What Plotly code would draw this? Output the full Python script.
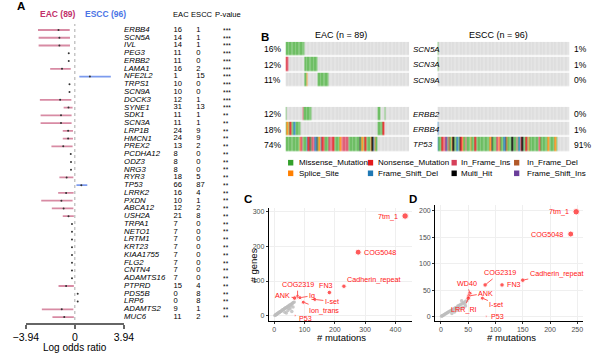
import plotly.graph_objects as go

W, H = 600, 355
FONT = "Liberation Sans, Arial, Helvetica, sans-serif"

# ---------------- Panel A data ----------------
genes = ["ERBB4", "SCN5A", "IVL", "PEG3", "ERBB2", "LAMA1", "NFE2L2", "TRPS1", "SCN9A", "DOCK3",
         "SYNE1", "SDK1", "SCN3A", "LRP1B", "HMCN1", "PREX2", "PCDHA12", "ODZ3", "NRG3", "RYR3",
         "TP53", "LRRK2", "PXDN", "ABCA12", "USH2A", "TRPA1", "NETO1", "LRTM1", "KRT23", "KIAA1755",
         "FLG2", "CNTN4", "ADAMTS16", "PTPRD", "PDS5B", "LRP6", "ADAMTS2", "MUC6"]
eac_counts = [16, 14, 14, 11, 11, 16, 1, 10, 10, 12, 31, 11, 11, 24, 24, 13, 8, 8, 8, 18,
              66, 16, 10, 12, 21, 7, 7, 7, 7, 7, 7, 7, 7, 15, 0, 0, 9, 11]
escc_counts = [1, 1, 1, 0, 0, 2, 15, 0, 0, 1, 13, 1, 1, 9, 9, 2, 0, 0, 0, 5,
               87, 4, 1, 2, 8, 0, 0, 0, 0, 0, 0, 0, 0, 4, 8, 8, 1, 2]
pvals = ["***"] * 11 + ["**"] * 27
log_or = [-1.31, -1.24, -1.24, -0.49, -0.49, -1.03, 1.21, -0.43, -0.43, -1.18,
          -0.51, -1.11, -1.11, -0.54, -0.54, -0.93, -0.33, -0.31, -0.31, -0.66,
          0.52, -0.70, -1.08, -0.90, -0.51, -0.23, -0.23, -0.23, -0.23, -0.23,
          -0.23, -0.23, -0.23, -0.70, 0.23, 0.23, -1.05, -0.85]
ci_lo = [-2.96, -2.91, -2.91, None, None, -1.98, 0.36, None, None, -2.81,
         -0.90, -2.75, -2.75, -0.97, -0.97, -1.88, None, None, None, -1.24,
         0.13, -1.34, -2.70, -1.85, -0.97, None, None, None, None, None,
         None, None, None, -1.31, None, None, -2.65, -1.80]
ci_hi = [-0.41, -0.39, -0.39, None, None, -0.33, 2.89, None, None, -0.28,
         -0.18, -0.26, -0.26, -0.15, -0.15, -0.18, None, None, None, -0.12,
         1.00, -0.10, -0.18, -0.12, -0.08, None, None, None, None, None,
         None, None, None, -0.08, None, None, -0.12, -0.08]
axis_ticks_A = [-3.94, 0, 3.94]
axis_ticktext_A = ["\u22123.94", "0", "3.94"]

# ---------------- Panel B data ----------------
n_eac, n_escc = 89, 96
onco_top = ["SCN5A", "SCN3A", "SCN9A"]
onco_bottom = ["ERBB2", "ERBB4", "TP53"]
# M Missense, N Nonsense, I In_Frame_Ins, D In_Frame_Del, S Splice_Site,
# F Frame_Shift_Del, H Multi_Hit, P Frame_Shift_Ins, . none
eac_top = [
    "M" * 14 + "." * 75,
    "NI" + "." * 12 + "M" * 9 + "." * 66,
    "." * 14 + "MS" + "." * 7 + "M" * 8 + "." * 58,
]
eac_bottom = [
    "M" + "." * 11 + "I" + "M" * 6 + "." * 47 + "MM" + "." * 3 + "M" + "." * 17,
    "MSMNMMFMMMM" + "." * 55 + "MMMMN" + "." * 18,
    "MMMMMMMMMM" + "SI" + "MMM" + "FNHM" + "IIFHM" + "SFNN" + "MMM" + "IIIN" + "MMMMS"
    + "IIIII" + "MMMMMMMM" + "HMSMN" + "MMMSHFSM" + "." * 23,
]
escc_top = [
    "M" + "." * 95,
    "M" + "." * 95,
    "." * 96,
]
escc_bottom = [
    "." * 96,
    "F" + "." * 95,
    "FMMNIIPMNM" + "SHMMFMHNSM" + "IMMMSMMNMM" + "MMMMMMMMSH" + "MMMISNMMFH"
    + "SMMMHMMIMF" + "NHMMNMSMMM" + "MMMINMMMMM" + "SMMMMSM" + "." * 9,
]
mut_codes = [".", "M", "N", "I", "D", "S", "F", "H", "P"]
mut_names = ["", "Missense_Mutation", "Nonsense_Mutation", "In_Frame_Ins", "In_Frame_Del",
             "Splice_Site", "Frame_Shift_Del", "Multi_Hit", "Frame_Shift_Ins"]
legend_order = ["M", "N", "I", "D", "S", "F", "H", "P"]

# ---------------- Panel C / D data ----------------
dom_c = ["7tm_1", "COG5048", "Cadherin_repeat", "FN3", "COG2319", "ANK", "Ig", "Ion_trans", "I-set", "P53"]
mut_c = [432, 277, 230, 182, 77, 67, 85, 96, 134, 69]
gen_c = [287, 183, 85, 67, 55, 51, 52, 39, 47, 1]
gray_c_x = [2, 4, 5, 7, 8, 10, 12, 13, 15, 17, 18, 20, 22, 24, 26, 28, 30, 32, 34, 36, 38, 40,
            43, 45, 48, 50, 53, 56, 58, 60, 63, 66, 45, 52, 58, 62, 35, 40, 55, 48]
gray_c_y = [1, 2, 3, 4, 5, 6, 7, 8, 9, 10, 11, 12, 13, 14, 16, 17, 18, 19, 21, 22, 23, 24,
            26, 27, 29, 30, 32, 33, 34, 36, 38, 40, 15, 20, 12, 25, 10, 8, 28, 22]
dom_d = ["7tm_1", "COG5048", "Cadherin_repeat", "FN3", "COG2319", "WD40", "ANK", "LRR_RI", "I-set", "P53"]
mut_d = [248, 238, 150, 112, 81, 53, 51, 50, 76, 83]
gen_d = [198, 156, 69, 60, 60, 44, 39, 35, 35, 1]
gray_d_x = [1, 2, 3, 5, 6, 8, 9, 11, 12, 14, 15, 17, 19, 21, 23, 25, 27, 29, 31, 33, 35, 37,
            40, 42, 45, 48, 30, 35, 40, 45, 25, 38, 44, 20]
gray_d_y = [1, 2, 2, 3, 4, 5, 6, 7, 8, 9, 10, 11, 12, 13, 14, 16, 17, 18, 20, 21, 22, 24,
            25, 27, 29, 31, 12, 15, 18, 20, 9, 30, 24, 6]

# ---------------- styles ----------------
PINK = "#D88BA4"
BLUE = "#7C9BEE"
EAC_COL = "#C2306A"
ESCC_COL = "#4C74E6"
MUT_COL = {".": "#D9D9D9", "M": "#55B349", "N": "#E31A1C", "I": "#DA4660", "D": "#B15928",
           "S": "#FF8A10", "F": "#2A7FBF", "H": "#000000", "P": "#6A3D9A"}
LEG_COL = {"M": "#33A02C", "N": "#E31A1C", "I": "#D6405A", "D": "#B15928",
           "S": "#FF7F00", "F": "#1F78B4", "H": "#000000", "P": "#6A3D9A"}
RED = "#FF1414"


def px(x):
    return x / W


def py(y):
    return 1 - y / H


fig = go.Figure()

# ---- Panel A forest ----
for sign, col in ((-1, PINK), (1, BLUE)):
    sx, sy = [], []
    for i, (lo, hi, v) in enumerate(zip(ci_lo, ci_hi, log_or)):
        if lo is None or (v > 0) != (sign > 0):
            continue
        sx += [lo, hi, None]
        sy += [i, i, None]
    fig.add_trace(go.Scatter(x=sx, y=sy, mode="lines", line=dict(color=col, width=1.8),
                             xaxis="x", yaxis="y", hoverinfo="skip"))
fig.add_trace(go.Scatter(x=log_or, y=list(range(len(genes))), mode="markers",
                         marker=dict(size=2, color="#333333"), xaxis="x", yaxis="y"))

rows = list(range(len(genes)))
NOMARK = dict(size=0, opacity=0)
fig.add_trace(go.Scatter(x=[115.5] * len(genes), y=rows, text=genes, mode="text",
                         textposition="middle right", marker=NOMARK, cliponaxis=False,
                         textfont=dict(size=7.8, color="black", style="italic"),
                         xaxis="x2", yaxis="y"))
fig.add_trace(go.Scatter(x=[167] * len(genes), y=rows, text=[str(v) for v in eac_counts],
                         mode="text", textposition="middle right", marker=NOMARK,
                         cliponaxis=False,
                         textfont=dict(size=7.6, color="black"), xaxis="x2", yaxis="y"))
fig.add_trace(go.Scatter(x=[190.5] * len(genes), y=rows, text=[str(v) for v in escc_counts],
                         mode="text", textposition="middle right", marker=NOMARK,
                         cliponaxis=False,
                         textfont=dict(size=7.6, color="black"), xaxis="x2", yaxis="y"))
fig.add_trace(go.Scatter(x=[218.5] * len(genes), y=[r + 0.15 for r in rows], text=pvals,
                         mode="text", textposition="middle right", marker=NOMARK,
                         cliponaxis=False,
                         textfont=dict(size=6.5, color="black"), xaxis="x2", yaxis="y"))

# ---- Panel B oncoplot ----
n_codes = len(mut_codes)
cscale = []
for k, c in enumerate(mut_codes):
    cscale.append([k / n_codes, MUT_COL[c]])
    cscale.append([(k + 1) / n_codes, MUT_COL[c]])


def zmat(strings):
    return [[mut_codes.index(ch) for ch in s] for s in strings]


for strings, xa, ya in ((eac_top, "x3", "y3"), (eac_bottom, "x3", "y4"),
                        (escc_top, "x4", "y3"), (escc_bottom, "x4", "y4")):
    fig.add_trace(go.Heatmap(z=zmat(strings), zmin=-0.5, zmax=n_codes - 0.5, colorscale=cscale,
                             showscale=False, xgap=0.3, ygap=1.6, xaxis=xa, yaxis=ya,
                             hoverinfo="skip"))

# ---- Panel C / D scatter ----
size_c = [6.5, 6, 4.5, 4.5, 4.5, 4.5, 4, 4, 4, 2]
size_d = [6.5, 6, 4.5, 4.5, 4.5, 4.5, 4.5, 4.5, 4, 2]
fig.add_trace(go.Scatter(x=gray_c_x, y=gray_c_y, mode="markers",
                         marker=dict(size=3.5, color="#BDBDBD", opacity=0.8),
                         xaxis="x5", yaxis="y5"))
fig.add_trace(go.Scatter(x=mut_c, y=gen_c, mode="markers", marker=dict(size=size_c, color=RED),
                         xaxis="x5", yaxis="y5"))
fig.add_trace(go.Scatter(x=gray_d_x, y=gray_d_y, mode="markers",
                         marker=dict(size=3.5, color="#BDBDBD", opacity=0.8),
                         xaxis="x6", yaxis="y6"))
fig.add_trace(go.Scatter(x=mut_d, y=gen_d, mode="markers", marker=dict(size=size_d, color=RED),
                         xaxis="x6", yaxis="y6"))

ann = []
shapes = []


def txt(x, y, s, size=8, color="black", xanchor="center", bold=False, italic=False, **kw):
    if bold:
        s = "<b>" + s + "</b>"
    if italic:
        s = "<i>" + s + "</i>"
    d = dict(x=x, y=y, text=s, showarrow=False, xanchor=xanchor, yanchor="middle",
             font=dict(size=size, color=color, family=FONT))
    d.setdefault("xref", "paper")
    d.setdefault("yref", "paper")
    d.update(kw)
    ann.append(d)


# Panel letters
txt(px(2), py(6), "A", 11.5, xanchor="left", bold=True)
txt(px(256), py(37), "B", 11.5, xanchor="left", bold=True)
txt(px(238), py(199), "C", 11.5, xanchor="left", bold=True)
txt(px(410), py(199), "D", 11.5, xanchor="left", bold=True)

# Panel A headers
txt(px(26), py(14.5), "EAC (89)", 8.5, EAC_COL, xanchor="left", bold=True)
txt(px(72.5), py(14.5), "ESCC (96)", 8.5, ESCC_COL, xanchor="left", bold=True)
txt(px(164.5), py(14.5), "EAC", 7.6, xanchor="left")
txt(px(183.5), py(14.5), "ESCC", 7.6, xanchor="left")
txt(px(207.5), py(14.5), "P-value", 7.6, xanchor="left")
txt(px(64.3), py(347), "Log odds ratio", 10)

# dashed zero line
shapes.append(dict(type="line", xref="x", yref="paper", x0=0, x1=0, y0=py(320), y1=py(24),
                   line=dict(color="#AAAAAA", width=1, dash="dot")))

# Panel B titles / labels
txt(px(341), py(35), "EAC (n = %d)" % n_eac, 9)
txt(px(505), py(35), "ESCC (n = %d)" % n_escc, 9)
for block, gl, ya in ((eac_top, onco_top, "y3"), (eac_bottom, onco_bottom, "y4")):
    for i, (s, g) in enumerate(zip(block, gl)):
        pct = round(100 * sum(ch != "." for ch in s) / n_eac)
        txt(px(281), i, "%d%%" % pct, 8.5, xanchor="right", yref=ya)
        txt(px(413.5), i, g, 8, xanchor="left", italic=True, yref=ya)
for block, ya in ((escc_top, "y3"), (escc_bottom, "y4")):
    for i, s in enumerate(block):
        pct = round(100 * sum(ch != "." for ch in s) / n_escc)
        txt(px(581), i, "%d%%" % pct, 8.5, xanchor="left", yref=ya)

# Legend
leg_sw_x = [286, 369, 456, 521]
leg_tx_x = [295, 377, 463.5, 532]
leg_y = [162.7, 173.3]
for k, code in enumerate(legend_order):
    r, c = divmod(k, 4)
    x0 = leg_sw_x[c]
    y0 = leg_y[r]
    shapes.append(dict(type="rect", xref="paper", yref="paper", x0=px(x0), x1=px(x0 + 5.5),
                       y0=py(y0 + 2.8), y1=py(y0 - 2.8), fillcolor=LEG_COL[code],
                       line=dict(width=0)))
    txt(px(leg_tx_x[c]), py(y0), mut_names[mut_codes.index(code)], 8, xanchor="left")

# Panel C/D axis titles
txt(px(250), py(265), "# genes", 9.5, textangle=-90)
txt(px(342), py(337.5), "# mutations", 9.5)
txt(px(518), py(337.5), "# mutations", 9.5)

# Label placement (style): ("arrow", ax, ay) or ("free", xanchor, xshift, yshift)
lab_c = {
    "7tm_1": ("free", "right", -5, 0), "COG5048": ("free", "left", 4, 0),
    "Cadherin_repeat": ("free", "left", 1, 7), "FN3": ("free", "center", -3, 7),
    "COG2319": ("arrow", 0, -12), "ANK": ("arrow", -12, -3), "Ig": ("arrow", 12, -2),
    "Ion_trans": ("arrow", 21, 8), "I-set": ("arrow", 17, 2), "P53": ("free", "left", 2, -3),
}
lab_d = {
    "7tm_1": ("free", "right", -5, 0), "COG5048": ("free", "right", -6, 0),
    "Cadherin_repeat": ("arrow", 34, -7), "FN3": ("free", "left", 3, 0),
    "COG2319": ("arrow", 15, -12), "WD40": ("arrow", -3, -10), "ANK": ("arrow", 17, -3),
    "LRR_RI": ("arrow", -4, 11), "I-set": ("arrow", 14, 6), "P53": ("free", "left", 3, 0),
}
for names, xs, ys, labs, xa, ya in ((dom_c, mut_c, gen_c, lab_c, "x5", "y5"),
                                    (dom_d, mut_d, gen_d, lab_d, "x6", "y6")):
    for nm, xv, yv in zip(names, xs, ys):
        st = labs[nm]
        if st[0] == "arrow":
            ann.append(dict(x=xv, y=yv, xref=xa, yref=ya, text=nm, showarrow=True,
                            arrowhead=0, arrowwidth=0.7, arrowcolor=RED, ax=st[1], ay=st[2],
                            standoff=1.5, font=dict(size=7.2, color=RED, family=FONT)))
        else:
            ann.append(dict(x=xv, y=yv, xref=xa, yref=ya, text=nm, showarrow=False,
                            xanchor=st[1], xshift=st[2], yshift=st[3],
                            font=dict(size=7.2, color=RED, family=FONT)))

hidden = dict(visible=False, showgrid=False, zeroline=False)
sc_axis = dict(showline=True, linecolor="black", linewidth=1, ticks="outside", ticklen=2,
               tickcolor="#333333", tickfont=dict(size=7, color="#4D4D4D"), showgrid=True,
               gridcolor="#EFEFEF", gridwidth=0.6, zeroline=False)

fig.update_layout(
    width=W, height=H, margin=dict(l=0, r=0, t=0, b=0),
    paper_bgcolor="white", plot_bgcolor="white", showlegend=False,
    font=dict(family=FONT, color="black"),
    xaxis=dict(domain=[px(13.3), px(115.3)], range=[-3.94, 3.94], anchor="y",
               tickvals=axis_ticks_A, ticktext=axis_ticktext_A, showline=True,
               linecolor="#666666", linewidth=1.6, ticks="outside", ticklen=4, tickwidth=1.6,
               tickcolor="#666666", tickfont=dict(size=10.5, color="black"),
               showgrid=False, zeroline=False),
    yaxis=dict(domain=[py(322.7), py(22)], range=[37.73, -1.03], anchor="x", **hidden),
    xaxis2=dict(domain=[px(115), px(240)], range=[115, 240], anchor="y", **hidden),
    xaxis3=dict(domain=[px(283.3), px(412)], range=[-0.5, n_eac - 0.5], anchor="y3", **hidden),
    xaxis4=dict(domain=[px(441.3), px(579)], range=[-0.5, n_escc - 0.5], anchor="y3", **hidden),
    yaxis3=dict(domain=[py(87.7), py(41.7)], range=[2.5, -0.5], anchor="x3", **hidden),
    yaxis4=dict(domain=[py(152.3), py(106.7)], range=[2.5, -0.5], anchor="x3", **hidden),
    xaxis5=dict(domain=[px(266), px(415)], range=[-18, 455], anchor="y5",
                tickvals=[0, 100, 200, 300, 400], **sc_axis),
    yaxis5=dict(domain=[py(321), py(208)], range=[-15, 310], anchor="x5",
                tickvals=[0, 100, 200, 300], **sc_axis),
    xaxis6=dict(domain=[px(439), px(593)], range=[-10.6, 261], anchor="y6",
                tickvals=[0, 50, 100, 150, 200, 250], **sc_axis),
    yaxis6=dict(domain=[py(321), py(205)], range=[-8.1, 210.8], anchor="x6",
                tickvals=[0, 50, 100, 150, 200], **sc_axis),
    annotations=ann, shapes=shapes,
)

fig.write_html("out.html", config={"displayModeBar": False},
               post_script="document.body.style.margin='0';document.body.style.overflow='hidden';")
